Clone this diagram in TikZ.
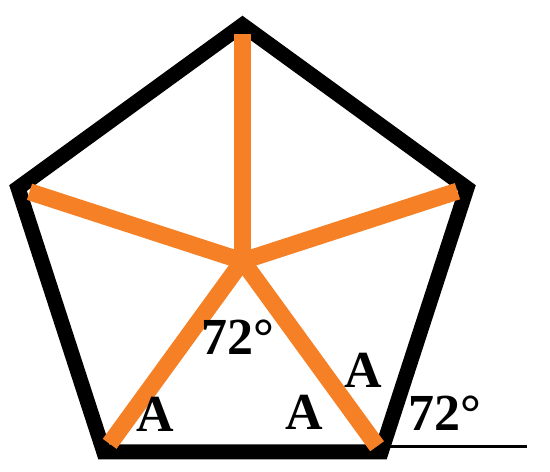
\documentclass[tikz,border=0pt]{standalone}
\usepackage{fontspec}
\setmainfont{Liberation Serif}
\usetikzlibrary{positioning}
\definecolor{spokeorange}{RGB}{245,128,37}
\tikzset{
  edge/.style={line width=15pt, line join=miter},
  spoke/.style={line width=17pt, spokeorange},
  baseline/.style={line width=3pt},
  lbl/.style={font=\fontsize{52}{58}\selectfont\bfseries, inner sep=0pt}
}

\begin{document}
\begin{tikzpicture}[x=1pt,y=1pt]
  \useasboundingbox (0,0) rectangle (550,472);
  % centre and corners
  \coordinate (c) at (242.5,211);
  \path (c) ++(90:236) coordinate (p1);
  \path (c) ++(162:236) coordinate (p2);
  \path (c) ++(234:236) coordinate (p3);
  \path (c) ++(306:236) coordinate (p4);
  \path (c) ++(18:236) coordinate (p5);
  % ends of the spokes
  \path (c) ++(90:227) coordinate (s1);
  \path (c) ++(162:224) coordinate (s2);
  \path (c) ++(234:226) coordinate (s3);
  \path (c) ++(306:229) coordinate (s4);
  \path (c) ++(18:226) coordinate (s5);
  \coordinate (lineend) at (527,25);

  \draw[edge] (p1) -- (p2) -- (p3) -- (p4) -- (p5) -- cycle;
  \draw[baseline] (p4 |- lineend) -- (lineend);
  \draw[spoke] (c) -- (s1);
  \draw[spoke] (c) -- (s2);
  \draw[spoke] (c) -- (s3);
  \draw[spoke] (c) -- (s4);
  \draw[spoke] (c) -- (s5);

  \node[lbl] (centreangle) at (238,135) {72°};
  \node[lbl] (leftA) at (155,58) {A};
  \node[lbl] (midA) at (304,60) {A};
  \node[lbl] (rightA) at (363,102) {A};
  \node[lbl] (outerangle) at (445,59) {72°};
\end{tikzpicture}
\end{document}
